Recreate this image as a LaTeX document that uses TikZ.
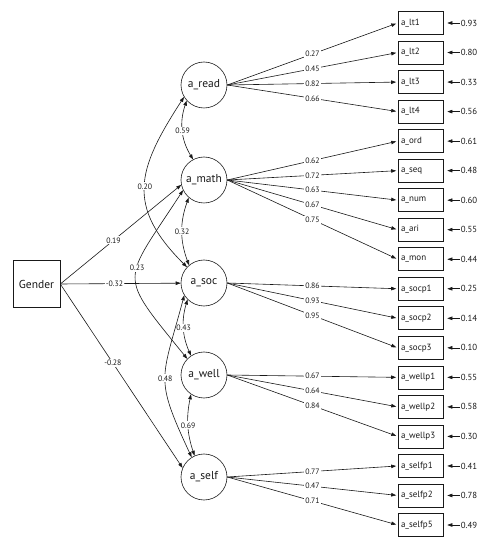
\documentclass[tikz,border=0pt]{standalone}
\usepackage{fontspec}
\setmainfont{PT Sans}
\usepackage{tikz}
\usetikzlibrary{arrows.meta}

\begin{document}
\begin{tikzpicture}[x=1pt, y=1pt, line width=0.6pt, color=black!90,
  latent/.style={draw, circle, minimum size=46pt, inner sep=0pt, font=\fontsize{11.5}{13}\selectfont},
  obs/.style={draw, minimum height=23pt, text width=39pt, inner sep=3pt, align=left, font=\fontsize{9}{10}\selectfont},
  coef/.style={fill=white, inner sep=1.2pt, font=\fontsize{7.8}{9}\selectfont},
  err/.style={inner sep=1pt, font=\fontsize{8.8}{10}\selectfont},
  arr/.style={-{Triangle[length=5pt,width=3.5pt]}},
  cov/.style={{Triangle[length=5pt,width=3.5pt]}-{Triangle[length=5pt,width=3.5pt]}}]
  \useasboundingbox (0,0) rectangle (489,550);

  \node[draw, minimum width=47pt, minimum height=47pt, font=\fontsize{11.5}{13}\selectfont] (gender) at (36.5,266) {Gender};
  \node[latent] (read) at (204,465) {a\_read};
  \node[latent] (math) at (204,370) {a\_math};
  \node[latent] (soc)  at (204,267) {a\_soc};
  \node[latent] (well) at (204,175) {a\_well};
  \node[latent] (self) at (204,73)  {a\_self};

  \foreach \i/\nm/\e in {1/lt1/0.93, 2/lt2/0.80, 3/lt3/0.33, 4/lt4/0.56, 5/ord/0.61, 6/seq/0.48,
    7/num/0.60, 8/ari/0.55, 9/mon/0.44, 10/socp1/0.25, 11/socp2/0.14, 12/socp3/0.10,
    13/wellp1/0.55, 14/wellp2/0.58, 15/wellp3/0.30, 16/selfp1/0.41, 17/selfp2/0.78, 18/selfp5/0.49} {
    \node[obs] (\nm) at (420.5, {527-29.53*(\i-1)}) {a\_\nm};
    \node[err] (e\nm) at (469, {527-29.53*(\i-1)}) {\e};
    \draw[arr, shorten >=4pt] (e\nm) -- (\nm);
  }

  \foreach \lv/\nm/\l in {read/lt1/0.27, read/lt2/0.45, read/lt3/0.82, read/lt4/0.66,
    math/ord/0.62, math/seq/0.72, math/num/0.63, math/ari/0.67, math/mon/0.75,
    soc/socp1/0.86, soc/socp2/0.93, soc/socp3/0.95,
    well/wellp1/0.67, well/wellp2/0.64, well/wellp3/0.84,
    self/selfp1/0.77, self/selfp2/0.47, self/selfp5/0.71}
    \draw[arr, shorten >=1.5pt] (\lv.east) -- (\nm.west) node[coef, pos=0.5] {\l};

  \draw[arr] (gender.east) -- (math.192) node[coef, pos=0.44] {0.19};
  \draw[arr] (gender.east) -- (soc) node[coef, pos=0.45] {-0.32};
  \draw[arr] (gender.east) -- (self.157) node[coef, pos=0.43] {-0.28};

  \draw[cov] (read.222) to[bend right=25] node[coef] {0.59} (math.118);
  \draw[cov] (math.229) to[bend right=20] node[coef] {0.32} (soc.130);
  \draw[cov] (soc.225) to[bend right=20] node[coef] {0.43} (well.124);
  \draw[cov] (well.236) to[bend right=15] node[coef] {0.69} (self.114);
  \draw[cov] (read.211) to[out=237, in=135, looseness=1.3] node[coef] {0.20} (soc.137);
  \draw[cov] (math.206) to[out=237, in=129, looseness=1.7] node[coef, pos=0.42] {0.23} (well.136);
  \draw[cov] (soc.212) to[out=255, in=115, looseness=1.4] node[coef] {0.48} (self.122);
\end{tikzpicture}
\end{document}
